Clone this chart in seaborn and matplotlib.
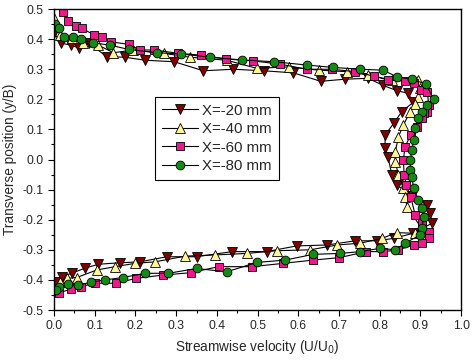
import matplotlib
matplotlib.use("Agg")
import matplotlib.pyplot as plt
import seaborn as sns
import pandas as pd
from matplotlib.ticker import MultipleLocator

labels = ["X=-20 mm", "X=-40 mm", "X=-60 mm", "X=-80 mm"]

u20 = [0.000, 0.017, 0.042, 0.062, 0.086, 0.129, 0.174, 0.224, 0.295, 0.367, 0.440, 0.515, 0.588,
       0.655, 0.715, 0.772, 0.807, 0.842, 0.870, 0.882, 0.854, 0.834, 0.813, 0.813, 0.820, 0.830,
       0.842, 0.880, 0.916, 0.924, 0.928, 0.882, 0.834, 0.793, 0.740, 0.670, 0.596, 0.522, 0.437,
       0.350, 0.277, 0.211, 0.162, 0.109, 0.076, 0.043, 0.019, 0.002]
y20 = [0.420, 0.387, 0.380, 0.370, 0.387, 0.342, 0.340, 0.330, 0.325, 0.295, 0.300, 0.295, 0.288,
       0.260, 0.267, 0.270, 0.247, 0.229, 0.220, 0.190, 0.159, 0.120, 0.081, 0.038, 0.009, -0.052,
       -0.085, -0.120, -0.151, -0.179, -0.212, -0.245, -0.262, -0.270, -0.270, -0.284, -0.287,
       -0.306, -0.306, -0.323, -0.323, -0.340, -0.343, -0.348, -0.361, -0.378, -0.389, -0.408]

u40 = [0.000, 0.015, 0.043, 0.072, 0.109, 0.146, 0.195, 0.269, 0.334, 0.424, 0.498, 0.576, 0.650,
       0.719, 0.772, 0.830, 0.895, 0.898, 0.895, 0.887, 0.875, 0.858, 0.846, 0.838, 0.838, 0.846,
       0.858, 0.862, 0.867, 0.903, 0.887, 0.842, 0.805, 0.752, 0.695, 0.629, 0.547, 0.473, 0.396,
       0.322, 0.248, 0.199, 0.150, 0.105, 0.056, 0.031, 0.015, 0.006]
y40 = [0.469, 0.414, 0.403, 0.386, 0.380, 0.355, 0.364, 0.353, 0.340, 0.330, 0.303, 0.308, 0.297,
       0.292, 0.281, 0.264, 0.264, 0.237, 0.209, 0.185, 0.159, 0.115, 0.076, 0.026, -0.007, -0.052,
       -0.096, -0.124, -0.157, -0.229, -0.245, -0.243, -0.262, -0.278, -0.284, -0.300, -0.303,
       -0.312, -0.317, -0.321, -0.340, -0.345, -0.356, -0.367, -0.392, -0.395, -0.406, -0.434]

u60 = [0.021, 0.035, 0.054, 0.068, 0.099, 0.117, 0.140, 0.183, 0.211, 0.246, 0.305, 0.361, 0.423,
       0.488, 0.555, 0.621, 0.682, 0.740, 0.785, 0.821, 0.862, 0.883, 0.901, 0.917, 0.920, 0.917,
       0.909, 0.903, 0.891, 0.876, 0.862, 0.858, 0.860, 0.865, 0.876, 0.887, 0.903, 0.920, 0.920,
       0.903, 0.883, 0.846, 0.809, 0.767, 0.701, 0.637, 0.563, 0.486, 0.404, 0.336, 0.267, 0.201,
       0.152, 0.101, 0.066, 0.042, 0.013]
y60 = [0.491, 0.461, 0.444, 0.436, 0.414, 0.406, 0.391, 0.383, 0.364, 0.364, 0.353, 0.347, 0.334,
       0.328, 0.317, 0.300, 0.300, 0.292, 0.277, 0.264, 0.261, 0.253, 0.231, 0.225, 0.181, 0.159,
       0.153, 0.137, 0.109, 0.081, 0.043, -0.002, -0.052, -0.085, -0.124, -0.184, -0.212, -0.240,
       -0.262, -0.278, -0.284, -0.300, -0.306, -0.306, -0.326, -0.334, -0.345, -0.356, -0.356,
       -0.376, -0.384, -0.395, -0.411, -0.411, -0.422, -0.431, -0.442]

u80 = [0.002, 0.013, 0.025, 0.046, 0.066, 0.095, 0.138, 0.183, 0.252, 0.311, 0.382, 0.461, 0.541,
       0.621, 0.686, 0.752, 0.808, 0.842, 0.879, 0.914, 0.932, 0.916, 0.903, 0.895, 0.887, 0.883,
       0.879, 0.875, 0.875, 0.879, 0.883, 0.895, 0.903, 0.908, 0.903, 0.899, 0.862, 0.838, 0.801,
       0.752, 0.703, 0.637, 0.568, 0.498, 0.424, 0.350, 0.281, 0.224, 0.169, 0.125, 0.090, 0.060,
       0.035, 0.011, 0.005]
y80 = [0.452, 0.436, 0.408, 0.408, 0.399, 0.388, 0.380, 0.366, 0.355, 0.351, 0.340, 0.331, 0.325,
       0.314, 0.306, 0.300, 0.297, 0.275, 0.266, 0.251, 0.200, 0.181, 0.159, 0.137, 0.104, 0.065,
       0.032, -0.002, -0.035, -0.057, -0.096, -0.134, -0.162, -0.190, -0.229, -0.251, -0.278,
       -0.300, -0.295, -0.306, -0.312, -0.315, -0.334, -0.342, -0.373, -0.362, -0.378, -0.378,
       -0.392, -0.400, -0.408, -0.417, -0.415, -0.422, -0.434]

series_u = [u20, u40, u60, u80]
series_y = [y20, y40, y60, y80]
markers = ["v", "^", "s", "o"]
colors = ["#7F0000", "#FFF79A", "#F0168C", "#138A13"]

sns.set_style("ticks")
plt.rcParams["font.family"] = ["Liberation Sans", "DejaVu Sans"]

fig = plt.figure(figsize=(4.74, 3.63), dpi=100)
ax = fig.add_axes([0.114, 0.146, 0.859, 0.829])

for u, y, lab, m, c in zip(series_u, series_y, labels, markers, colors):
    df = pd.DataFrame({"u": u, "y": y})
    sns.lineplot(data=df, x="u", y="y", sort=False, estimator=None, ax=ax,
                 color="black", linewidth=0.8, marker=m, markersize=7.5 if m in "v^" else 6.3,
                 markerfacecolor=c, markeredgecolor="black", markeredgewidth=0.6,
                 label=lab)

ax.set_xlim(0, 1.0)
ax.set_ylim(-0.5, 0.5)
ax.xaxis.set_major_locator(MultipleLocator(0.1))
ax.xaxis.set_minor_locator(MultipleLocator(0.05))
ax.yaxis.set_major_locator(MultipleLocator(0.1))
ax.yaxis.set_minor_locator(MultipleLocator(0.05))
ax.tick_params(which="major", direction="out", length=4, width=0.8, labelsize=8.8, color="black")
ax.tick_params(which="minor", direction="out", length=2, width=0.8, color="black")
ax.xaxis.set_major_formatter(matplotlib.ticker.FormatStrFormatter("%.1f"))
ax.yaxis.set_major_formatter(matplotlib.ticker.FormatStrFormatter("%.1f"))
for s in ax.spines.values():
    s.set_visible(True)
    s.set_color("black")
    s.set_linewidth(1.0)

ax.set_xlabel("Streamwise velocity (U/U$_0$)", fontsize=9.8, labelpad=4)
ax.set_ylabel("Transverse position (y/B)", fontsize=9.8, labelpad=4)

leg = ax.legend(loc="upper left", bbox_to_anchor=(0.248, 0.708), fontsize=10.8, frameon=True,
                fancybox=False, edgecolor="black", framealpha=1, borderpad=0.45,
                labelspacing=0.3, handlelength=2.4, handletextpad=0.3, borderaxespad=0)
leg.get_frame().set_linewidth(0.8)

fig.savefig("out.png", dpi=100)
